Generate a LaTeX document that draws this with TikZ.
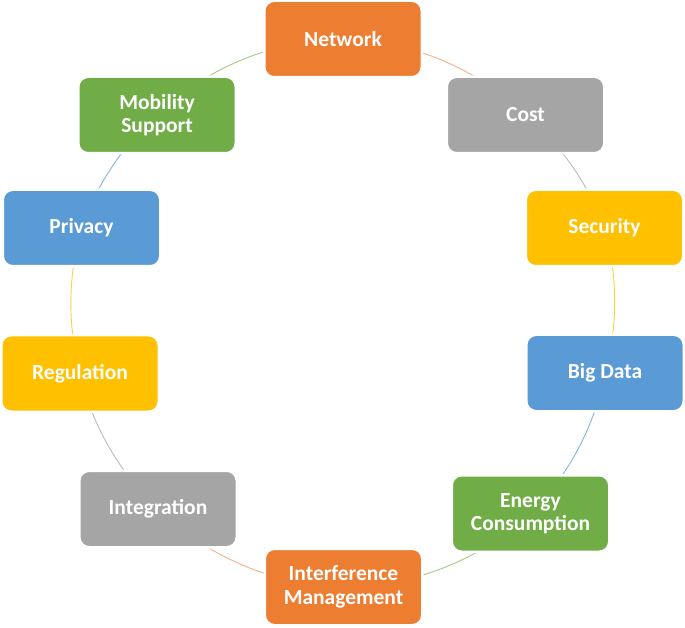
\documentclass[tikz,border=0pt]{standalone}
\usepackage{fontspec}
\setmainfont{Carlito}
\usetikzlibrary{backgrounds}
\definecolor{corange}{HTML}{ED7D31}
\definecolor{cgray}{HTML}{A5A5A5}
\definecolor{cgold}{HTML}{FFC000}
\definecolor{cblue}{HTML}{5B9BD5}
\definecolor{cgreen}{HTML}{70AD47}
\tikzset{
  box/.style={rectangle, rounded corners=10pt, minimum width=157.5pt, minimum height=76.5pt,
    inner sep=0pt, text=white, align=center, font=\fontsize{21.5}{23.5}\selectfont\bfseries,
    draw=white, line width=2.5pt},
  link/.style={line width=0.9pt, looseness=0.87}
}
\begin{document}
\begin{tikzpicture}[x=1pt,y=1pt]
\useasboundingbox (0,0) rectangle (685,627);
\node[box, fill=corange] (net) at (343,588) {Network};
\node[box, fill=cgray] (cost) at (525.5,512) {Cost};
\node[box, fill=cgold] (sec) at (604.5,399) {Security};
\node[box, fill=cblue] (big) at (605,254) {Big Data};
\node[box, fill=cgreen] (ene) at (530.5,113.5) {Energy\\Consumption};
\node[box, fill=corange] (intf) at (343.5,40) {Interference\\Management};
\node[box, fill=cgray] (integ) at (158,118) {Integration};
\node[box, fill=cgold] (reg) at (80,253.5) {Regulation};
\node[box, fill=cblue] (priv) at (81.5,399) {Privacy};
\node[box, fill=cgreen] (mob) at (157,512) {Mobility\\Support};
\begin{scope}[on background layer]
\draw[link, corange!60!white] (net.center) to[bend left=21.5] (cost.center);
\draw[link, cgray!75!white] (cost.center) to[bend left=14.7] (sec.center);
\draw[link, cgold!75!white] (sec.center) to[bend left=15.5] (big.center);
\draw[link, cblue!75!white] (big.center) to[bend left=17] (ene.center);
\draw[link, cgreen!65!white] (ene.center) to[bend left=21.5] (intf.center);
\draw[link, corange!60!white] (intf.center) to[bend left=21.6] (integ.center);
\draw[link, cgray!75!white] (integ.center) to[bend left=16.9] (reg.center);
\draw[link, cgold!75!white] (reg.center) to[bend left=15.4] (priv.center);
\draw[link, cblue!75!white] (priv.center) to[bend left=14.4] (mob.center);
\draw[link, cgreen!65!white] (mob.center) to[bend left=21.7] (net.center);
\end{scope}
\end{tikzpicture}
\end{document}
